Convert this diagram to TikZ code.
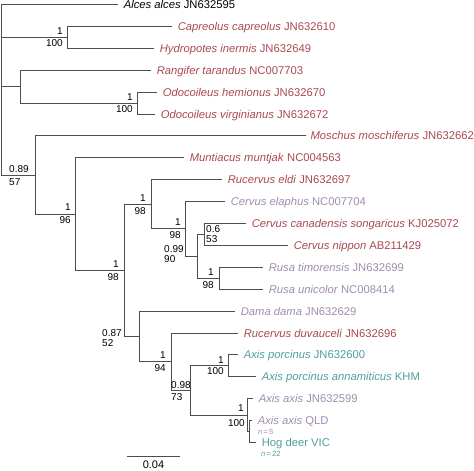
\documentclass[tikz,border=0pt]{standalone}
\usepackage{fontspec}
\setmainfont{Liberation Sans}
\definecolor{tred}{RGB}{168,72,80}
\definecolor{tpur}{RGB}{160,140,175}
\definecolor{tteal}{RGB}{78,158,158}
\definecolor{brgray}{RGB}{78,78,78}
\tikzset{
  br/.style={draw=brgray, line width=1pt},
  tip/.style={anchor=west, inner xsep=5.8pt, inner ysep=0pt, outer sep=0pt,
    text height=8.1pt, text depth=0pt, font=\fontsize{11.25}{13}\selectfont},
  suppE/.style={anchor=east, inner sep=0pt, text height=7.2pt, text depth=0pt,
    font=\fontsize{10}{12}\selectfont},
  suppW/.style={anchor=west, inner sep=0pt, text height=7.2pt, text depth=0pt,
    font=\fontsize{10}{12}\selectfont},
  nlab/.style={anchor=west, inner sep=0pt, text height=5pt, text depth=0pt,
    font=\fontsize{7.5}{9}\selectfont},
}
\begin{document}
\begin{tikzpicture}[x=1pt,y=-1pt]
\useasboundingbox (0,0) rectangle (474,471);
% tips
\node[tip] (t1) at (118,4.5) {\textit{Alces alces} JN632595};
\node[tip,text=tred] (t2) at (172,26.4) {\textit{Capreolus capreolus} JN632610};
\node[tip,text=tred] (t3) at (154,48.3) {\textit{Hydropotes inermis} JN632649};
\node[tip,text=tred] (t4) at (151,70.2) {\textit{Rangifer tarandus} NC007703};
\node[tip,text=tred] (t5) at (157,92.1) {\textit{Odocoileus hemionus} JN632670};
\node[tip,text=tred] (t6) at (155,114) {\textit{Odocoileus virginianus} JN632672};
\node[tip,text=tred,inner xsep=4.6pt] (t7) at (306,135.9) {\textit{Moschus moschiferus} JN632662};
\node[tip,text=tred] (t8) at (184,157.8) {\textit{Muntiacus muntjak} NC004563};
\node[tip,text=tred] (t9) at (222,179.7) {\textit{Rucervus eldi} JN632697};
\node[tip,text=tpur] (t10) at (225,201.6) {\textit{Cervus elaphus} NC007704};
\node[tip,text=tred] (t11) at (246,223.5) {\textit{Cervus canadensis songaricus} KJ025072};
\node[tip,text=tred] (t12) at (288,245.4) {\textit{Cervus nippon} AB211429};
\node[tip,text=tpur] (t13) at (263,267.3) {\textit{Rusa timorensis} JN632699};
\node[tip,text=tpur] (t14) at (263,289.2) {\textit{Rusa unicolor} NC008414};
\node[tip,text=tpur] (t15) at (235,311.1) {\textit{Dama dama} JN632629};
\node[tip,text=tred] (t16) at (238,333) {\textit{Rucervus duvauceli} JN632696};
\node[tip,text=tteal] (t17) at (238,354.9) {\textit{Axis porcinus} JN632600};
\node[tip,text=tteal] (t18) at (256,376.8) {\textit{Axis porcinus annamiticus} KHM};
\node[tip,text=tpur] (t19) at (253,398.7) {\textit{Axis axis} JN632599};
\node[tip,text=tpur] (t20) at (252,420.6) {\textit{Axis axis} QLD};
\node[tip,text=tteal] (t21) at (256,442.5) {Hog deer VIC};
\node[nlab,text=tpur] (n5) at (258,432) {\textit{n}\,=\,5};
\node[nlab,text=tteal] (n22) at (261,454) {\textit{n}\,=\,22};
% internal nodes
\coordinate (root) at (1,4.5);
\coordinate (c1) at (67,37.35);
\coordinate (c2) at (20,86.15);
\coordinate (c3) at (137,103.05);
\coordinate (c4) at (35,175);
\coordinate (c5) at (75,214.1);
\coordinate (c6) at (124,270.4);
\coordinate (c7) at (151,204.34);
\coordinate (c8) at (185,228.98);
\coordinate (c9) at (197,256.35);
\coordinate (c10) at (204,234.45);
\coordinate (c11) at (219,278.25);
\coordinate (c12) at (139,336.4);
\coordinate (c13) at (171,361.75);
\coordinate (c14) at (190,390.5);
\coordinate (c15) at (228,365.85);
\coordinate (c16) at (247,415.1);
\coordinate (c17) at (249,431.55);
% branches
\draw[br] (root) |- (t1.west);
\draw[br] (root) |- (c1);
\draw[br] (root) |- (c2);
\draw[br] (root) |- (c4);
\draw[br] (c1) |- (t2.west);
\draw[br] (c1) |- (t3.west);
\draw[br] (c2) |- (t4.west);
\draw[br] (c2) |- (c3);
\draw[br] (c3) |- (t5.west);
\draw[br] (c3) |- (t6.west);
\draw[br] (c4) |- (t7.west);
\draw[br] (c4) |- (c5);
\draw[br] (c5) |- (t8.west);
\draw[br] (c5) |- (c6);
\draw[br] (c6) |- (c7);
\draw[br] (c6) |- (c12);
\draw[br] (c7) |- (t9.west);
\draw[br] (c7) |- (c8);
\draw[br] (c8) |- (t10.west);
\draw[br] (c8) |- (c9);
\draw[br] (c9) |- (c10);
\draw[br] (c9) |- (c11);
\draw[br] (c10) |- (t11.west);
\draw[br] (c10) |- (t12.west);
\draw[br] (c11) |- (t13.west);
\draw[br] (c11) |- (t14.west);
\draw[br] (c12) |- (t15.west);
\draw[br] (c12) |- (c13);
\draw[br] (c13) |- (t16.west);
\draw[br] (c13) |- (c14);
\draw[br] (c14) |- (c15);
\draw[br] (c14) |- (c16);
\draw[br] (c15) |- (t17.west);
\draw[br] (c15) |- (t18.west);
\draw[br] (c16) |- (t19.west);
\draw[br] (c16) |- (c17);
\draw[br] (c17) |- (t20.west);
\draw[br] (c17) |- (t21.west);
% support values
\node[suppE] (s1a) at (63,31) {1};
\node[suppE] (s1b) at (63,43) {100};
\node[suppE] (s3a) at (133,97) {1};
\node[suppE] (s3b) at (133,109) {100};
\node[suppW] (s4a) at (9,169) {0.89};
\node[suppW] (s4b) at (9,182) {57};
\node[suppE] (s5a) at (71,207) {1};
\node[suppE] (s5b) at (71,220) {96};
\node[suppE] (s6a) at (119,264) {1};
\node[suppE] (s6b) at (119,277) {98};
\node[suppE] (s7a) at (146,198) {1};
\node[suppE] (s7b) at (146,211) {98};
\node[suppE] (s8a) at (181,222) {1};
\node[suppE] (s8b) at (181,235) {98};
\node[suppW] (s9a) at (164,249) {0.99};
\node[suppW] (s9b) at (164,259) {90};
\node[suppW] (s10a) at (206,229) {0.6};
\node[suppW] (s10b) at (206,239) {53};
\node[suppE] (s11a) at (214,272) {1};
\node[suppE] (s11b) at (214,285) {98};
\node[suppW] (s12a) at (102,333) {0.87};
\node[suppW] (s12b) at (102,343) {52};
\node[suppE] (s13a) at (166,355) {1};
\node[suppE] (s13b) at (166,368) {94};
\node[suppW] (s14a) at (171,385) {0.98};
\node[suppW] (s14b) at (171,397) {73};
\node[suppE] (s15a) at (224,360) {1};
\node[suppE] (s15b) at (224,371) {100};
\node[suppE] (s16a) at (244,408) {1};
\node[suppE] (s16b) at (245,423) {100};
% scale bar
\coordinate (sb1) at (127,456);
\coordinate (sb2) at (180,456);
\draw[br] (sb1) -- (sb2);
\node[suppE, anchor=center, font=\fontsize{11}{13}\selectfont, text height=7.9pt] (sbl) at (153.5,465) {0.04};
\end{tikzpicture}
\end{document}
